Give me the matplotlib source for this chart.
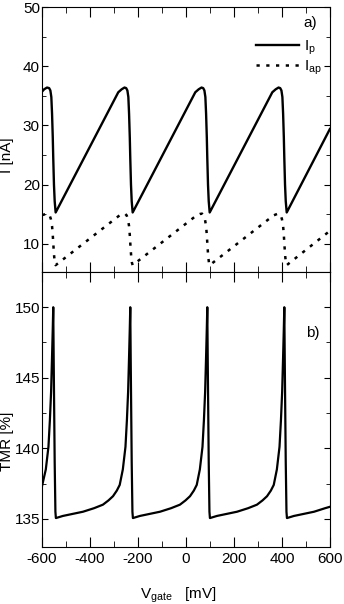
import matplotlib
matplotlib.use('Agg')
import matplotlib.pyplot as plt
from matplotlib.ticker import MultipleLocator

plt.rcParams['font.family'] = 'Liberation Sans'
plt.rcParams['mathtext.default'] = 'regular'
plt.rcParams['axes.unicode_minus'] = False

# Parallel current vs gate voltage
vg_p = [-600, -591, -579, -570, -565, -561, -558, -555, -553, -550, -547, -543,
        -282, -268, -256, -249, -244, -240, -237, -234, -232, -229, -226, -222,
        39, 53, 65, 72, 77, 81, 84, 87, 89, 92, 95, 99,
        360, 374, 386, 393, 398, 402, 405, 408, 410, 413, 416, 420, 600]
i_p = [35.7, 36.1, 36.4, 36.3, 35.9, 34.8, 32.0, 28.0, 24.5, 20.0, 17.2, 15.3,
       35.6, 36.1, 36.4, 36.3, 35.9, 34.8, 32.0, 28.0, 24.5, 20.0, 17.2, 15.3,
       35.6, 36.1, 36.4, 36.3, 35.9, 34.8, 32.0, 28.0, 24.5, 20.0, 17.2, 15.3,
       35.6, 36.1, 36.4, 36.3, 35.9, 34.8, 32.0, 28.0, 24.5, 20.0, 17.2, 15.3, 29.4]

# Antiparallel current
vg_ap = [-600, -583, -575, -568, -563, -558, -555, -552, -549, -546, -543,
         -277, -262, -254, -247, -242, -237, -234, -231, -228, -225, -222,
         44, 59, 67, 74, 79, 84, 87, 90, 93, 96, 99,
         365, 380, 388, 395, 400, 405, 408, 411, 414, 417, 420, 600]
i_ap = [14.85, 15.05, 15.1, 14.8, 14.2, 13.0, 11.5, 9.5, 7.8, 6.8, 6.4,
        14.8, 15.05, 15.1, 14.8, 14.2, 13.0, 11.5, 9.5, 7.8, 6.8, 6.4,
        14.8, 15.05, 15.1, 14.8, 14.2, 13.0, 11.5, 9.5, 7.8, 6.8, 6.4,
        14.8, 15.05, 15.1, 14.8, 14.2, 13.0, 11.5, 9.5, 7.8, 6.8, 6.4, 12.2]

# Tunnel magnetoresistance
vg_tmr = [-600, -584, -573, -567, -562, -558, -555, -553, -551, -547, -544, -542,
          -513, -429, -383, -346, -323, -304, -288, -276, -263, -252, -246, -241,
          -237, -234, -232, -230, -226, -223, -221,
          -192, -108, -62, -25, -2, 17, 33, 45, 58, 69, 75, 80, 84, 87, 89,
          91, 95, 98, 100,
          129, 213, 259, 296, 319, 338, 354, 366, 379, 390, 396, 401, 405, 408, 410,
          412, 416, 419, 421, 450, 534, 580, 600]
tmr = [137.3, 138.5, 140.1, 142.0, 144.0, 146.5, 148.5, 150.0, 146.0, 139.0, 135.5, 135.05,
       135.2, 135.5, 135.75, 136.0, 136.3, 136.6, 137.0, 137.4, 138.5, 140.1, 142.0, 144.0,
       146.5, 148.5, 150.0, 146.0, 139.0, 135.5, 135.05,
       135.2, 135.5, 135.75, 136.0, 136.3, 136.6, 137.0, 137.4, 138.5, 140.1, 142.0, 144.0, 146.5, 148.5, 150.0,
       146.0, 139.0, 135.5, 135.05,
       135.2, 135.5, 135.75, 136.0, 136.3, 136.6, 137.0, 137.4, 138.5, 140.1, 142.0, 144.0, 146.5, 148.5, 150.0,
       146.0, 139.0, 135.5, 135.05, 135.2, 135.5, 135.75, 135.85]

fig = plt.figure(figsize=(3.44, 6.04), dpi=100)
ax1 = fig.add_axes([0.122, 0.5497, 0.837, 0.4387])
ax2 = fig.add_axes([0.122, 0.0944, 0.837, 0.4553])

ax1.plot(vg_p, i_p, color='black', lw=1.7, label='$I_p$')
ax1.plot(vg_ap, i_ap, color='black', lw=1.8, ls=(0, (1.3, 2.6)), label='$I_{ap}$')
ax2.plot(vg_tmr, tmr, color='black', lw=1.6)

for ax in (ax1, ax2):
    ax.set_xlim(-600, 600)
    ax.xaxis.set_major_locator(MultipleLocator(200))
    ax.xaxis.set_minor_locator(MultipleLocator(100))
    ax.tick_params(which='both', direction='in', top=True, right=True, labelsize=11)
    ax.tick_params(axis='x', which='major', length=7)
    ax.tick_params(axis='x', which='minor', length=4)
    ax.tick_params(axis='y', which='major', length=4, pad=1.5)
    ax.tick_params(axis='y', which='minor', length=3)

ax1.set_ylim(5.25, 50)
ax1.yaxis.set_major_locator(MultipleLocator(10))
ax1.yaxis.set_minor_locator(MultipleLocator(5))
ax1.tick_params(labelbottom=False)
ax1.set_ylabel('I [nA]', fontsize=11)
ax1.yaxis.set_label_coords(-0.097, 0.44)
ax1.text(0.93, 0.94, 'a)', transform=ax1.transAxes, fontsize=11, ha='center', va='center')
ax1.legend(loc='upper left', bbox_to_anchor=(0.745, 0.88), frameon=False, fontsize=11,
           handlelength=2.8, handletextpad=0.3, labelspacing=0.1,
           borderaxespad=0, borderpad=0)

ax2.set_ylim(133, 152.5)
ax2.yaxis.set_major_locator(MultipleLocator(5))
ax2.yaxis.set_minor_locator(MultipleLocator(2.5))
ax2.set_ylabel('TMR [%]', fontsize=11)
ax2.yaxis.set_label_coords(-0.097, 0.385)
ax2.set_xlabel('$V_{gate}$   [mV]', fontsize=11)
ax2.xaxis.set_label_coords(0.472, -0.14)
ax2.text(0.94, 0.778, 'b)', transform=ax2.transAxes, fontsize=11, ha='center', va='center')

fig.savefig('out.png', dpi=100)
